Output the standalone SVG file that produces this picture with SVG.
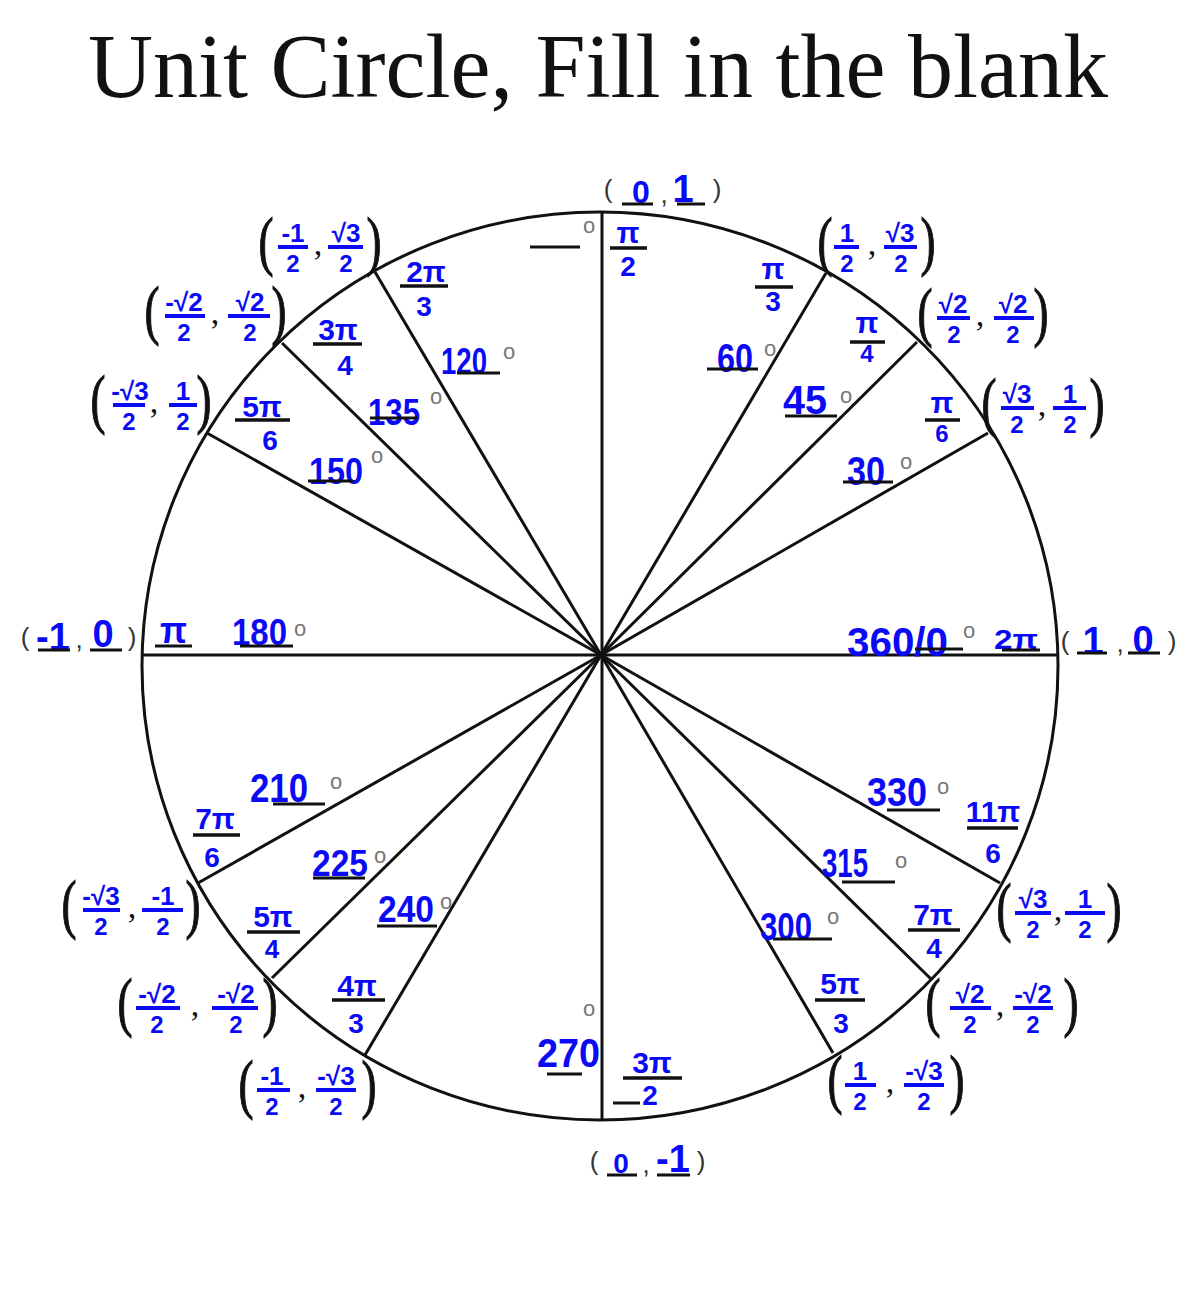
<svg xmlns="http://www.w3.org/2000/svg" width="1200" height="1312" viewBox="0 0 1200 1312">
<style>
.title{font-family:"Liberation Serif","Times New Roman",serif;font-size:90px;fill:#111;text-anchor:middle}
.b{font-family:"Liberation Sans",Arial,sans-serif;font-weight:bold;fill:#0a0af5}
.num{font-size:26px;text-anchor:middle}
.den{font-size:24px;text-anchor:middle}
.rn{font-size:30px;text-anchor:middle}
.rd{font-size:28px;text-anchor:middle}
.deg{font-size:40px}
.ax{font-size:38px;text-anchor:middle}
.fl{stroke:#0a0af5;stroke-width:4}
.bl{stroke:#111;stroke-width:3.5}
.ul{stroke:#111;stroke-width:3}
.o{font-family:"Liberation Sans",Arial,sans-serif;font-size:22px;fill:#777}
.par{font-family:"Liberation Serif","Times New Roman",serif;font-size:66px;fill:#111;stroke:#111;stroke-width:1.2;text-anchor:middle}
.cm{font-family:"Liberation Serif","Times New Roman",serif;font-size:34px;fill:#111;text-anchor:middle}
.sp{font-family:"Liberation Sans",Arial,sans-serif;font-size:26px;fill:#333;text-anchor:middle}
.spk{stroke:#111;stroke-width:3;fill:none}
</style>
<rect width="1200" height="1312" fill="#fff"/>
<text class="title" x="598" y="97">Unit Circle, Fill in the blank</text>

<g id="connectors">
<ellipse class="spk" cx="600" cy="666" rx="458" ry="454"/>
<line class="spk" x1="602" y1="212" x2="602" y2="1120"/>
<line class="spk" x1="142" y1="655" x2="1058" y2="655"/>
<line class="spk" x1="601" y1="655" x2="826" y2="273"/>
<line class="spk" x1="601" y1="655" x2="917" y2="342"/>
<line class="spk" x1="601" y1="655" x2="988" y2="433"/>
<line class="spk" x1="601" y1="655" x2="375" y2="272"/>
<line class="spk" x1="601" y1="655" x2="282" y2="343"/>
<line class="spk" x1="601" y1="655" x2="207" y2="433"/>
<line class="spk" x1="601" y1="655" x2="198" y2="883"/>
<line class="spk" x1="601" y1="655" x2="272" y2="978"/>
<line class="spk" x1="601" y1="655" x2="365" y2="1055"/>
<line class="spk" x1="601" y1="655" x2="833" y2="1053"/>
<line class="spk" x1="601" y1="655" x2="932" y2="980"/>
<line class="spk" x1="601" y1="655" x2="1000" y2="883"/>
</g>

<!-- axis points -->
<g id="pt-90">
<text class="sp" x="608" y="198">(</text>
<text class="b ax" x="641" y="203" style="font-size:32px">0</text>
<line class="ul" x1="622" y1="204" x2="653" y2="204"/>
<text class="sp" x="664" y="203">,</text>
<text class="b ax" x="683" y="202">1</text>
<line class="ul" x1="677" y1="204" x2="705" y2="204"/>
<text class="sp" x="717" y="198">)</text>
</g>
<g id="pt-180">
<text class="sp" x="25" y="646">(</text>
<text class="b ax" x="53" y="650">-1</text>
<line class="ul" x1="38" y1="650" x2="70" y2="650"/>
<text class="sp" x="79" y="648">,</text>
<text class="b ax" x="103" y="647">0</text>
<line class="ul" x1="90" y1="650" x2="122" y2="650"/>
<text class="sp" x="132" y="646">)</text>
</g>
<g id="pt-0">
<text class="sp" x="1065" y="650">(</text>
<text class="b ax" x="1093" y="654">1</text>
<line class="ul" x1="1077" y1="653" x2="1107" y2="653"/>
<text class="sp" x="1120" y="652">,</text>
<text class="b ax" x="1143" y="653">0</text>
<line class="ul" x1="1128" y1="653" x2="1160" y2="653"/>
<text class="sp" x="1172" y="650">)</text>
</g>
<g id="pt-270">
<text class="sp" x="594" y="1170">(</text>
<text class="b ax" x="621" y="1173" style="font-size:28px">0</text>
<line class="ul" x1="607" y1="1175" x2="637" y2="1175"/>
<text class="sp" x="646" y="1173">,</text>
<text class="b ax" x="673" y="1172">-1</text>
<line class="ul" x1="657" y1="1175" x2="690" y2="1175"/>
<text class="sp" x="701" y="1170">)</text>
</g>

<!-- fractional coordinate points -->
<g id="pt-60" transform="translate(875,247)">
<text class="par" x="-50" y="16" textLength="15" lengthAdjust="spacingAndGlyphs">(</text>
<text class="b num" x="-28" y="-5">1</text><line class="fl" x1="-41" y1="0" x2="-16" y2="0"/><text class="b den" x="-28" y="25">2</text>
<text class="cm" x="-3" y="8">,</text>
<text class="b num" x="25" y="-5">√3</text><line class="fl" x1="9" y1="0" x2="42" y2="0"/><text class="b den" x="26" y="25">2</text>
<text class="par" x="53" y="16" textLength="15" lengthAdjust="spacingAndGlyphs">)</text>
</g>
<g id="pt-45" transform="translate(982,318)">
<text class="par" x="-57" y="16" textLength="15" lengthAdjust="spacingAndGlyphs">(</text>
<text class="b num" x="-29" y="-5">√2</text><line class="fl" x1="-45" y1="0" x2="-12" y2="0"/><text class="b den" x="-28" y="25">2</text>
<text class="cm" x="-2" y="8">,</text>
<text class="b num" x="31" y="-5">√2</text><line class="fl" x1="12" y1="0" x2="52" y2="0"/><text class="b den" x="31" y="25">2</text>
<text class="par" x="59" y="16" textLength="15" lengthAdjust="spacingAndGlyphs">)</text>
</g>
<g id="pt-30" transform="translate(1045,408)">
<text class="par" x="-56" y="16" textLength="15" lengthAdjust="spacingAndGlyphs">(</text>
<text class="b num" x="-28" y="-5">√3</text><line class="fl" x1="-44" y1="0" x2="-11" y2="0"/><text class="b den" x="-28" y="25">2</text>
<text class="cm" x="-3" y="8">,</text>
<text class="b num" x="25" y="-5">1</text><line class="fl" x1="8" y1="0" x2="41" y2="0"/><text class="b den" x="25" y="25">2</text>
<text class="par" x="52" y="16" textLength="15" lengthAdjust="spacingAndGlyphs">)</text>
</g>
<g id="pt-120" transform="translate(320,247)">
<text class="par" x="-54" y="16" textLength="15" lengthAdjust="spacingAndGlyphs">(</text>
<text class="b num" x="-27" y="-5">-1</text><line class="fl" x1="-42" y1="0" x2="-12" y2="0"/><text class="b den" x="-27" y="25">2</text>
<text class="cm" x="-2" y="8">,</text>
<text class="b num" x="26" y="-5">√3</text><line class="fl" x1="8" y1="0" x2="43" y2="0"/><text class="b den" x="26" y="25">2</text>
<text class="par" x="54" y="16" textLength="15" lengthAdjust="spacingAndGlyphs">)</text>
</g>
<g id="pt-135" transform="translate(215,316)">
<text class="par" x="-63" y="16" textLength="15" lengthAdjust="spacingAndGlyphs">(</text>
<text class="b num" x="-31" y="-5">-√2</text><line class="fl" x1="-50" y1="0" x2="-10" y2="0"/><text class="b den" x="-31" y="25">2</text>
<text class="cm" x="0" y="8">,</text>
<text class="b num" x="35" y="-5">√2</text><line class="fl" x1="13" y1="0" x2="55" y2="0"/><text class="b den" x="35" y="25">2</text>
<text class="par" x="64" y="16" textLength="15" lengthAdjust="spacingAndGlyphs">)</text>
</g>
<g id="pt-150" transform="translate(155,405)">
<text class="par" x="-57" y="16" textLength="15" lengthAdjust="spacingAndGlyphs">(</text>
<text class="b num" x="-25" y="-5">-√3</text><line class="fl" x1="-42" y1="0" x2="-10" y2="0"/><text class="b den" x="-26" y="25">2</text>
<text class="cm" x="-1" y="8">,</text>
<text class="b num" x="28" y="-5">1</text><line class="fl" x1="14" y1="0" x2="42" y2="0"/><text class="b den" x="28" y="25">2</text>
<text class="par" x="49" y="16" textLength="15" lengthAdjust="spacingAndGlyphs">)</text>
</g>
<g id="pt-210" transform="translate(133,910)">
<text class="par" x="-64" y="16" textLength="15" lengthAdjust="spacingAndGlyphs">(</text>
<text class="b num" x="-32" y="-5">-√3</text><line class="fl" x1="-50" y1="0" x2="-13" y2="0"/><text class="b den" x="-32" y="25">2</text>
<text class="cm" x="-1" y="8">,</text>
<text class="b num" x="30" y="-5">-1</text><line class="fl" x1="9" y1="0" x2="50" y2="0"/><text class="b den" x="30" y="25">2</text>
<text class="par" x="60" y="16" textLength="15" lengthAdjust="spacingAndGlyphs">)</text>
</g>
<g id="pt-225" transform="translate(197,1008)">
<text class="par" x="-72" y="16" textLength="15" lengthAdjust="spacingAndGlyphs">(</text>
<text class="b num" x="-40" y="-5">-√2</text><line class="fl" x1="-61" y1="0" x2="-17" y2="0"/><text class="b den" x="-40" y="25">2</text>
<text class="cm" x="-2" y="8">,</text>
<text class="b num" x="39" y="-5">-√2</text><line class="fl" x1="15" y1="0" x2="61" y2="0"/><text class="b den" x="39" y="25">2</text>
<text class="par" x="73" y="16" textLength="15" lengthAdjust="spacingAndGlyphs">)</text>
</g>
<g id="pt-240" transform="translate(305,1090)">
<text class="par" x="-59" y="16" textLength="15" lengthAdjust="spacingAndGlyphs">(</text>
<text class="b num" x="-33" y="-5">-1</text><line class="fl" x1="-48" y1="0" x2="-15" y2="0"/><text class="b den" x="-33" y="25">2</text>
<text class="cm" x="-3" y="8">,</text>
<text class="b num" x="31" y="-5">-√3</text><line class="fl" x1="11" y1="0" x2="51" y2="0"/><text class="b den" x="31" y="25">2</text>
<text class="par" x="64" y="16" textLength="15" lengthAdjust="spacingAndGlyphs">)</text>
</g>
<g id="pt-300" transform="translate(895,1085)">
<text class="par" x="-60" y="16" textLength="15" lengthAdjust="spacingAndGlyphs">(</text>
<text class="b num" x="-35" y="-5">1</text><line class="fl" x1="-50" y1="0" x2="-19" y2="0"/><text class="b den" x="-35" y="25">2</text>
<text class="cm" x="-5" y="8">,</text>
<text class="b num" x="29" y="-5">-√3</text><line class="fl" x1="9" y1="0" x2="49" y2="0"/><text class="b den" x="29" y="25">2</text>
<text class="par" x="62" y="16" textLength="15" lengthAdjust="spacingAndGlyphs">)</text>
</g>
<g id="pt-315" transform="translate(1003,1008)">
<text class="par" x="-70" y="16" textLength="15" lengthAdjust="spacingAndGlyphs">(</text>
<text class="b num" x="-33" y="-5">√2</text><line class="fl" x1="-53" y1="0" x2="-12" y2="0"/><text class="b den" x="-33" y="25">2</text>
<text class="cm" x="-3" y="8">,</text>
<text class="b num" x="30" y="-5">-√2</text><line class="fl" x1="10" y1="0" x2="50" y2="0"/><text class="b den" x="30" y="25">2</text>
<text class="par" x="68" y="16" textLength="15" lengthAdjust="spacingAndGlyphs">)</text>
</g>
<g id="pt-330" transform="translate(1060,913)">
<text class="par" x="-56" y="16" textLength="15" lengthAdjust="spacingAndGlyphs">(</text>
<text class="b num" x="-27" y="-5">√3</text><line class="fl" x1="-45" y1="0" x2="-9" y2="0"/><text class="b den" x="-27" y="25">2</text>
<text class="cm" x="-2" y="8">,</text>
<text class="b num" x="25" y="-5">1</text><line class="fl" x1="5" y1="0" x2="45" y2="0"/><text class="b den" x="25" y="25">2</text>
<text class="par" x="54" y="16" textLength="15" lengthAdjust="spacingAndGlyphs">)</text>
</g>

<!-- radian labels -->
<g id="rad-90"><text class="b rn" x="628" y="243">π</text><line class="bl" x1="610" y1="248" x2="647" y2="248"/><text class="b rd" x="628" y="276">2</text></g>
<g id="rad-60"><text class="b rn" x="773" y="279">π</text><line class="bl" x1="755" y1="287" x2="793" y2="287"/><text class="b rd" x="773" y="311">3</text></g>
<g id="rad-45"><text class="b rn" x="867" y="333">π</text><line class="bl" x1="850" y1="342" x2="885" y2="342"/><text class="b rd" x="867" y="362" style="font-size:24px">4</text></g>
<g id="rad-30"><text class="b rn" x="942" y="413">π</text><line class="bl" x1="925" y1="420" x2="960" y2="420"/><text class="b rd" x="942" y="442" style="font-size:24px">6</text></g>
<g id="rad-120"><text class="b rn" x="426" y="282">2π</text><line class="bl" x1="400" y1="286" x2="448" y2="286"/><text class="b rd" x="424" y="316">3</text></g>
<g id="rad-135"><text class="b rn" x="338" y="340">3π</text><line class="bl" x1="313" y1="344" x2="362" y2="344"/><text class="b rd" x="345" y="375">4</text></g>
<g id="rad-150"><text class="b rn" x="262" y="417">5π</text><line class="bl" x1="235" y1="420" x2="290" y2="420"/><text class="b rd" x="270" y="450">6</text></g>
<g id="rad-210"><text class="b rn" x="215" y="829">7π</text><line class="bl" x1="193" y1="835" x2="240" y2="835"/><text class="b rd" x="212" y="867">6</text></g>
<g id="rad-225"><text class="b rn" x="273" y="927">5π</text><line class="bl" x1="247" y1="932" x2="300" y2="932"/><text class="b rd" x="272" y="958" style="font-size:26px">4</text></g>
<g id="rad-240"><text class="b rn" x="357" y="996">4π</text><line class="bl" x1="332" y1="1000" x2="385" y2="1000"/><text class="b rd" x="356" y="1033">3</text></g>
<g id="rad-270"><text class="b rn" x="652" y="1073">3π</text><line class="bl" x1="623" y1="1078" x2="682" y2="1078"/><line class="ul" x1="613" y1="1103" x2="640" y2="1103"/><text class="b rd" x="650" y="1105">2</text></g>
<g id="rad-300"><text class="b rn" x="840" y="994">5π</text><line class="bl" x1="815" y1="1000" x2="865" y2="1000"/><text class="b rd" x="841" y="1033">3</text></g>
<g id="rad-315"><text class="b rn" x="933" y="925">7π</text><line class="bl" x1="908" y1="930" x2="960" y2="930"/><text class="b rd" x="934" y="958">4</text></g>
<g id="rad-330"><text class="b rn" x="993" y="822">11π</text><line class="bl" x1="967" y1="828" x2="1018" y2="828"/><text class="b rd" x="993" y="863">6</text></g>

<!-- degree labels -->
<g id="deg-90"><line class="ul" x1="530" y1="247" x2="580" y2="247"/><text class="o" x="583" y="233">o</text></g>
<g id="deg-60"><text class="b deg" x="717" y="372" textLength="36" lengthAdjust="spacingAndGlyphs">60</text><line class="ul" x1="707" y1="369" x2="758" y2="369"/><text class="o" x="764" y="356">o</text></g>
<g id="deg-45"><text class="b deg" x="783" y="414" textLength="44" lengthAdjust="spacingAndGlyphs">45</text><line class="ul" x1="785" y1="416" x2="837" y2="416"/><text class="o" x="840" y="403">o</text></g>
<g id="deg-30"><text class="b deg" x="847" y="485" textLength="38" lengthAdjust="spacingAndGlyphs">30</text><line class="ul" x1="843" y1="482" x2="893" y2="482"/><text class="o" x="900" y="469">o</text></g>
<g id="deg-120"><text class="b deg" x="441" y="374" style="font-size:36px" textLength="46" lengthAdjust="spacingAndGlyphs">120</text><line class="ul" x1="457" y1="373" x2="500" y2="373"/><text class="o" x="503" y="359">o</text></g>
<g id="deg-135"><text class="b deg" x="368" y="425" style="font-size:36px" textLength="52" lengthAdjust="spacingAndGlyphs">135</text><line class="ul" x1="370" y1="418" x2="417" y2="418"/><text class="o" x="430" y="404">o</text></g>
<g id="deg-150"><text class="b deg" x="309" y="484" style="font-size:36px" textLength="54" lengthAdjust="spacingAndGlyphs">150</text><line class="ul" x1="308" y1="481" x2="353" y2="481"/><text class="o" x="371" y="463">o</text></g>
<g id="deg-180"><text class="b deg" x="160" y="643" style="font-size:36px" textLength="27" lengthAdjust="spacingAndGlyphs">π</text><line class="ul" x1="155" y1="646" x2="192" y2="646"/><text class="b deg" x="232" y="645" style="font-size:36px" textLength="55" lengthAdjust="spacingAndGlyphs">180</text><line class="ul" x1="240" y1="646" x2="293" y2="646"/><text class="o" x="294" y="636">o</text></g>
<g id="deg-0"><text class="b deg" x="847" y="656" textLength="101" lengthAdjust="spacingAndGlyphs">360/0</text><line class="ul" x1="915" y1="649" x2="963" y2="649"/><text class="o" x="963" y="638">o</text><text class="b deg" x="994" y="649" style="font-size:28px" textLength="44" lengthAdjust="spacingAndGlyphs">2π</text><line class="ul" x1="1002" y1="650" x2="1040" y2="650"/></g>
<g id="deg-210"><text class="b deg" x="250" y="802" textLength="58" lengthAdjust="spacingAndGlyphs">210</text><line class="ul" x1="273" y1="804" x2="325" y2="804"/><text class="o" x="330" y="789">o</text></g>
<g id="deg-225"><text class="b deg" x="312" y="876" style="font-size:36px" textLength="56" lengthAdjust="spacingAndGlyphs">225</text><line class="ul" x1="313" y1="878" x2="365" y2="878"/><text class="o" x="374" y="863">o</text></g>
<g id="deg-240"><text class="b deg" x="378" y="922" style="font-size:36px" textLength="56" lengthAdjust="spacingAndGlyphs">240</text><line class="ul" x1="377" y1="926" x2="437" y2="926"/><text class="o" x="440" y="909">o</text></g>
<g id="deg-270"><text class="b deg" x="537" y="1067" textLength="63" lengthAdjust="spacingAndGlyphs">270</text><line class="ul" x1="547" y1="1074" x2="582" y2="1074"/><text class="o" x="583" y="1016">o</text></g>
<g id="deg-300"><text class="b deg" x="760" y="940" style="font-size:38px" textLength="52" lengthAdjust="spacingAndGlyphs">300</text><line class="ul" x1="773" y1="939" x2="832" y2="939"/><text class="o" x="827" y="924">o</text></g>
<g id="deg-315"><text class="b deg" x="822" y="877" textLength="46" lengthAdjust="spacingAndGlyphs">315</text><line class="ul" x1="842" y1="882" x2="895" y2="882"/><text class="o" x="895" y="868">o</text></g>
<g id="deg-330"><text class="b deg" x="867" y="806" textLength="60" lengthAdjust="spacingAndGlyphs">330</text><line class="ul" x1="887" y1="810" x2="940" y2="810"/><text class="o" x="937" y="794">o</text></g>
</svg>
